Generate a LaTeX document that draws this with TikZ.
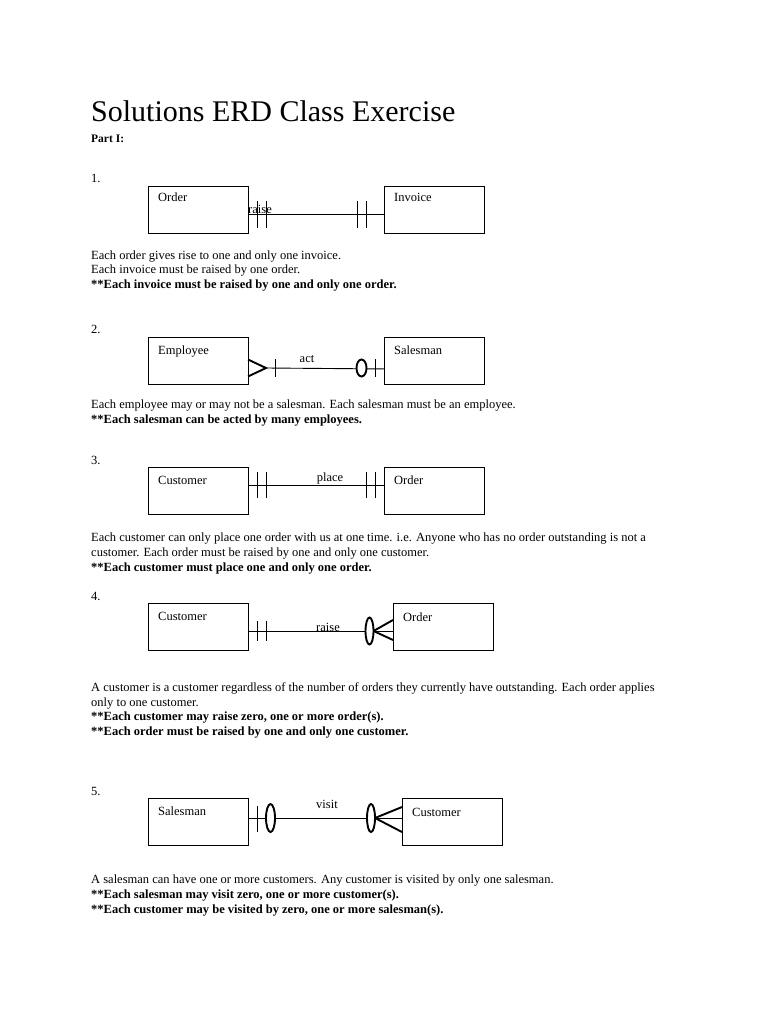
\documentclass[tikz,border=0pt]{standalone}
\usepackage{fontspec}
\setmainfont{Liberation Serif}
\begin{document}
\begin{tikzpicture}[x=1pt,y=-1pt,
  ent/.style={draw,line width=0.9pt,minimum width=100pt,minimum height=47pt,anchor=north west,inner sep=0pt},
  txt/.style={anchor=base west,inner sep=0pt,font=\fontsize{12.5}{14}\selectfont},
  btxt/.style={anchor=base west,inner sep=0pt,font=\fontsize{12.5}{14}\selectfont\bfseries},
  rel/.style={anchor=base,inner sep=0pt,font=\fontsize{12.5}{14}\selectfont},
  conn/.style={line width=0.9pt},
  tick/.style={line width=0.9pt},
  crow/.style={line width=1.9pt},
  ring/.style={line width=1.9pt,fill=white}]
\useasboundingbox[fill=white] (0,0) rectangle (768,1024);

\node[anchor=base west,inner sep=0pt,font=\fontsize{30}{32}\selectfont] (title) at (91,122) {Solutions ERD Class Exercise};
\node[btxt,font=\fontsize{11.5}{13}\selectfont\bfseries] (part) at (91,143) {Part I:};

% ---------- 1 ----------
\node[txt] (n1) at (91,183) {1.};
\node[ent] (o1) at (148,186) {};
\node[ent] (i1) at (384,186) {};
\node[txt] (o1l) at (158,202) {Order};
\node[txt] (i1l) at (394,202) {Invoice};
\draw[conn] ([yshift=-4.5pt]o1.east) -- ([yshift=-4.5pt]i1.west);
\node[txt] (r1) at (248,214) {raise};
\draw[tick] (257,201) -- (257,228) (266,201) -- (266,228);
\draw[tick] (357,201) -- (357,228) (366,201) -- (366,228);
\node[txt] (p1a) at (91,259) {Each order gives rise to one and only one invoice.};
\node[txt] (p1b) at (91,273) {Each invoice must be raised by one order.};
\node[btxt] (p1c) at (91,288) {**Each invoice must be raised by one and only one order.};

% ---------- 2 ----------
\node[txt] (n2) at (91,333) {2.};
\node[ent] (e2) at (148,337) {};
\node[ent] (s2) at (384,337) {};
\node[txt] (e2l) at (158,354) {Employee};
\node[txt] (s2l) at (394,354) {Salesman};
\coordinate (c2) at (266,368);
\draw[conn] (c2) -- ([yshift=-8pt]s2.west);
\draw[crow] (248,359.5) -- (c2) -- (248,376.5);
\draw[tick] (275,359) -- (275,377);
\draw[ring] (361.5,368) ellipse [x radius=5pt,y radius=8.5pt];
\draw[tick] (375,359) -- (375,377);
\node[rel] (r2) at (307,362) {act};
\node[txt] (p2a) at (91,408) {Each employee may or may not be a salesman. Each salesman must be an employee.};
\node[btxt] (p2b) at (91,423) {**Each salesman can be acted by many employees.};

% ---------- 3 ----------
\node[txt] (n3) at (91,464) {3.};
\node[ent] (c3) at (148,467) {};
\node[ent] (o3) at (384,467) {};
\node[txt] (c3l) at (158,484) {Customer};
\node[txt] (o3l) at (394,484) {Order};
\draw[conn] ([yshift=5.5pt]c3.east) -- ([yshift=5.5pt]o3.west);
\draw[tick] (257,472) -- (257,498) (266,472) -- (266,498);
\draw[tick] (366,472) -- (366,498) (375,472) -- (375,498);
\node[rel] (r3) at (330,481) {place};
\node[txt] (p3a) at (91,541) {Each customer can only place one order with us at one time. i.e. Anyone who has no order outstanding is not a};
\node[txt] (p3b) at (91,556) {customer. Each order must be raised by one and only one customer.};
\node[btxt] (p3c) at (91,571) {**Each customer must place one and only one order.};

% ---------- 4 ----------
\node[txt] (n4) at (91,600) {4.};
\node[ent] (c4) at (148,603) {};
\node[ent] (o4) at (393,603) {};
\node[txt] (c4l) at (158,620) {Customer};
\node[txt] (o4l) at (403,621) {Order};
\draw[conn] ([yshift=-4.5pt]c4.east) -- ([yshift=-4.5pt]o4.west);
\node[rel] (r4) at (328,631) {raise};
\draw[tick] (257,621) -- (257,641) (266,621) -- (266,641);
\coordinate (c4a) at (373.5,631);
\draw[crow] (393,620) -- (c4a) -- (393,640);
\draw[ring] (369.5,631) ellipse [x radius=4pt,y radius=13.5pt];
\node[txt] (p4a) at (91,691) {A customer is a customer regardless of the number of orders they currently have outstanding. Each order applies};
\node[txt] (p4b) at (91,706) {only to one customer.};
\node[btxt] (p4c) at (91,720) {**Each customer may raise zero, one or more order(s).};
\node[btxt] (p4d) at (91,735) {**Each order must be raised by one and only one customer.};

% ---------- 5 ----------
\node[txt] (n5) at (91,795) {5.};
\node[ent] (s5) at (148,798) {};
\node[ent] (c5) at (402,798) {};
\node[txt] (s5l) at (158,815) {Salesman};
\node[txt] (c5l) at (412,816) {Customer};
\draw[conn] ([yshift=3.5pt]s5.east) -- ([yshift=3.5pt]c5.west);
\draw[tick] (257,806) -- (257,832);
\draw[ring] (270.5,818) ellipse [x radius=4.5pt,y radius=14pt];
\coordinate (c5a) at (375,818);
\draw[crow] (402,807) -- (c5a) -- (402,832);
\draw[ring] (371,818) ellipse [x radius=4pt,y radius=14pt];
\node[rel] (r5) at (327,808) {visit};
\node[txt] (p5a) at (91,883) {A salesman can have one or more customers. Any customer is visited by only one salesman.};
\node[btxt] (p5b) at (91,898) {**Each salesman may visit zero, one or more customer(s).};
\node[btxt] (p5c) at (91,913) {**Each customer may be visited by zero, one or more salesman(s).};
\end{tikzpicture}
\end{document}
